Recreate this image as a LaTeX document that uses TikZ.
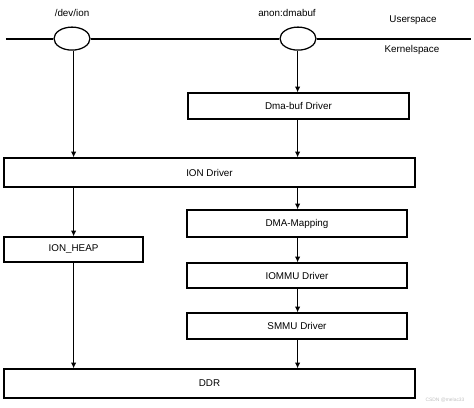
\documentclass[tikz,border=0pt]{standalone}
\usepackage{fontspec}
\setmainfont{Liberation Sans}
\usetikzlibrary{positioning,arrows.meta,shapes}

\begin{document}
\begin{tikzpicture}[blk/.style={draw,rectangle,line width=0.9pt,inner sep=0pt,font=\fontsize{7}{8}\selectfont},
      port/.style={draw,ellipse,line width=0.9pt,minimum width=0.9cm,minimum height=0.575cm,inner sep=0pt},
      lbl/.style={font=\fontsize{7}{8}\selectfont},
      >={Latex[length=4pt,width=3.8pt]}]
      \useasboundingbox (0,0) rectangle (11.85,10.175);

      \node[port] (devion) at (1.8,9.21) {};
      \node[port] (anon) at (7.45,9.21) {};
      \node[lbl] (devionlbl) at (1.8,9.85) {/dev/ion};
      \node[lbl] (anonlbl) at (7.175,9.85) {anon:dmabuf};
      \node[lbl] (user) at (10.325,9.675) {Userspace};
      \node[lbl] (kernel) at (10.3,8.925) {Kernelspace};

      \coordinate (lineL) at (0.15,9.21);
      \coordinate (lineR) at (11.775,9.21);
      \draw[line width=1.5pt] (lineL) -- (devion.west);
      \draw[line width=1.5pt] (devion.east) -- (anon.west);
      \draw[line width=1.5pt] (anon.east) -- (lineR);

      \node[blk,minimum width=5.525cm,minimum height=0.65cm] (dmabuf) at (7.4625,7.525) {Dma-buf Driver};
      \node[blk,minimum width=10.275cm,minimum height=0.725cm] (iondrv) at (5.2375,5.8625) {ION Driver};
      \node[blk,minimum width=5.5cm,minimum height=0.675cm] (mapping) at (7.425,4.5875) {DMA-Mapping};
      \node[blk,minimum width=3.475cm,minimum height=0.625cm] (heap) at (1.8375,3.9375) {ION\_HEAP};
      \node[blk,minimum width=5.5cm,minimum height=0.625cm] (iommu) at (7.425,3.2875) {IOMMU Driver};
      \node[blk,minimum width=5.5cm,minimum height=0.65cm] (smmu) at (7.425,2.025) {SMMU Driver};
      \node[blk,minimum width=10.275cm,minimum height=0.725cm] (ddr) at (5.2375,0.5875) {DDR};

      \coordinate (colL) at (1.84,0);
      \coordinate (colR) at (7.44,0);
      \draw[->,line width=1pt] (colL |- devion.south) -- (colL |- iondrv.north);
      \draw[->,line width=1pt] (colL |- iondrv.south) -- (colL |- heap.north);
      \draw[->,line width=1pt] (colL |- heap.south) -- (colL |- ddr.north);
      \draw[->,line width=1pt] (colR |- anon.south) -- (colR |- dmabuf.north);
      \draw[->,line width=1pt] (colR |- dmabuf.south) -- (colR |- iondrv.north);
      \draw[->,line width=1pt] (colR |- iondrv.south) -- (colR |- mapping.north);
      \draw[->,line width=1pt] (colR |- mapping.south) -- (colR |- iommu.north);
      \draw[->,line width=1pt] (colR |- iommu.south) -- (colR |- smmu.north);
      \draw[->,line width=1pt] (colR |- smmu.south) -- (colR |- ddr.north);

      \node[text=black!25,font=\fontsize{3.5}{4}\selectfont] (mark) at (11.125,0.175) {CSDN @melac33};
\end{tikzpicture}
\end{document}
